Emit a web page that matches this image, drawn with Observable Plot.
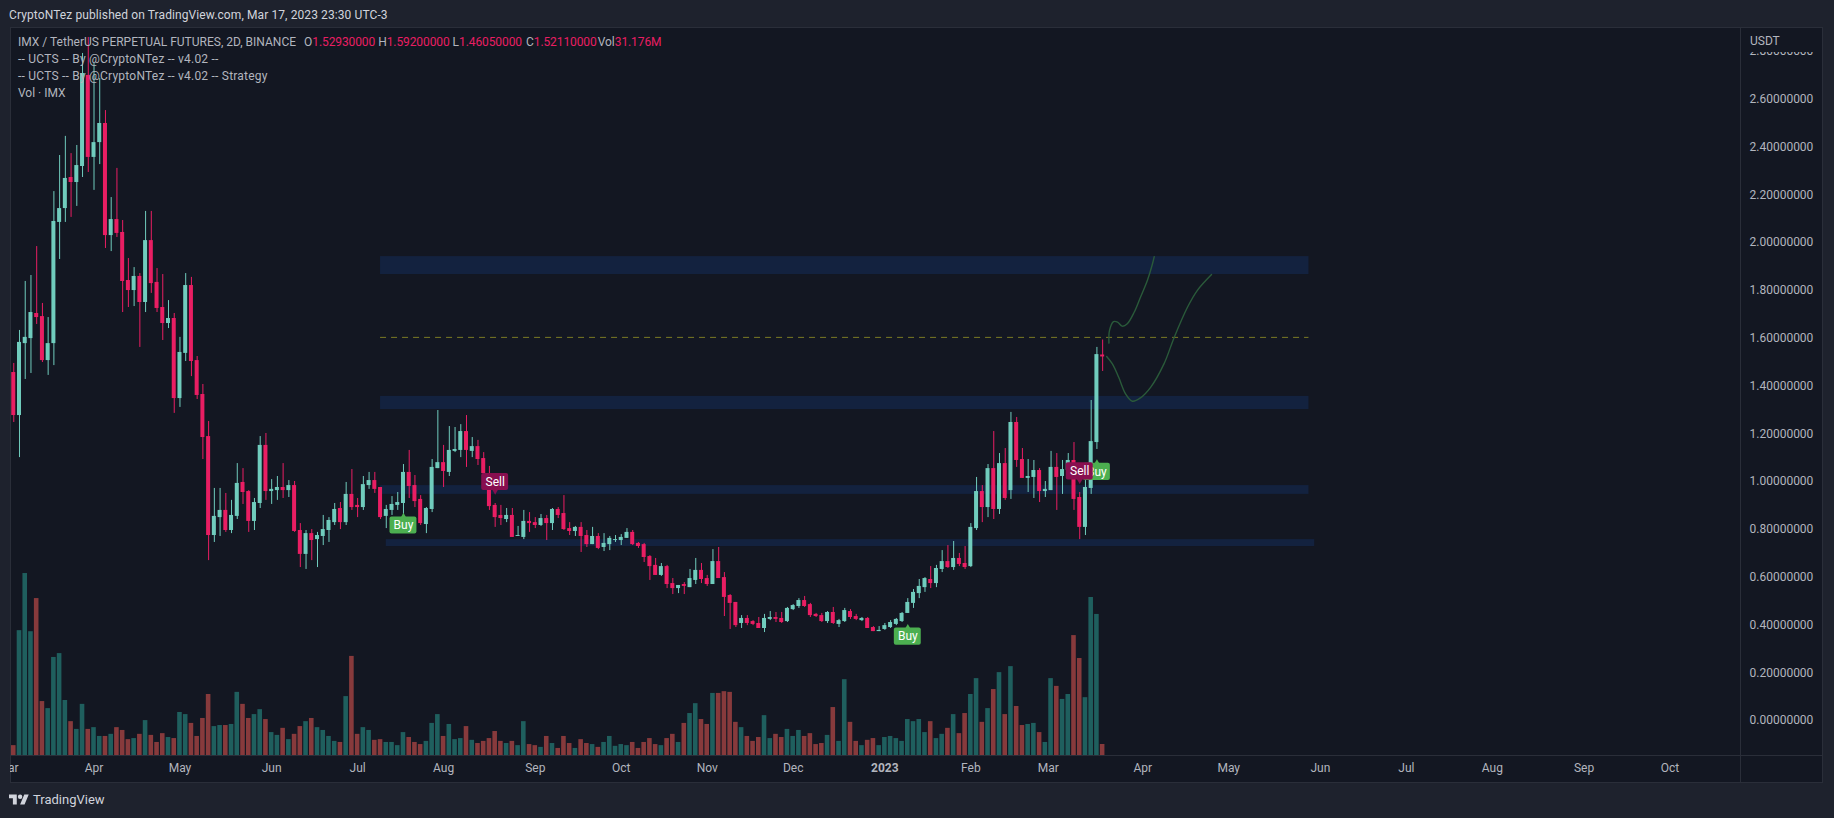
<!DOCTYPE html>
<html>
<head>
<meta charset="utf-8">
<script src="https://cdn.jsdelivr.net/npm/d3@7"></script>
<script src="https://cdn.jsdelivr.net/npm/@observablehq/plot@0.6"></script>
<style>
  html,body{margin:0;padding:0;background:#1e222d;width:1834px;height:818px;overflow:hidden;font-family:Roboto,sans-serif;}
  #title{height:27px;line-height:30px;padding-left:9px;font-size:12px;letter-spacing:.1px;color:#d1d4dc;box-sizing:border-box;white-space:pre;}
  #wrap{position:relative;width:1834px;height:756px;}
  #panel{position:absolute;left:10px;top:0;width:1811px;height:754px;background:#131722;border:1px solid #2a2e39;z-index:0;}
  .line{position:absolute;background:#2a2e39;z-index:2;}
  #wrap svg{position:absolute;left:0;top:0;z-index:1;overflow:visible;}
  #strip{position:absolute;left:0;top:0;width:10px;height:756px;background:#1e222d;z-index:3;}
  #usdt{position:absolute;left:1741px;top:1px;width:81px;height:24px;background:#131722;color:#b2b5be;font-size:12px;line-height:26px;padding-left:9px;box-sizing:border-box;z-index:3;}
  #legend{position:absolute;left:18px;top:7px;font-size:12px;line-height:17px;color:#b2b5be;z-index:3;white-space:pre;}
  #legend .v{color:#e91e63;letter-spacing:-.1px;}
  #legend .gap{display:inline-block;width:3px;}
  #legend .wide{letter-spacing:.22px;}
  #foot{height:33px;display:flex;align-items:center;padding-left:9px;color:#d1d4dc;font-size:13px;box-sizing:border-box;}
  #foot svg{margin-right:4px;}
</style>
</head>
<body>
<div id="title">CryptoNTez published on TradingView.com, Mar 17, 2023 23:30 UTC-3</div>
<div id="wrap">
  <div id="panel"></div>
  <div class="line" style="left:1740px;top:0;width:1px;height:756px"></div>
  <div class="line" style="left:11px;top:728px;width:1811px;height:1px"></div>
  <div id="strip"></div>
  <div id="usdt">USDT</div>
  <div id="legend"><span>IMX / TetherUS PERPETUAL FUTURES, 2D, BINANCE</span><span class="gap" style="width:8px"></span>O<span class="v">1.52930000</span><span class="gap"></span>H<span class="v">1.59200000</span><span class="gap"></span>L<span class="v">1.46050000</span><span class="gap" style="width:4px"></span>C<span class="v">1.52110000</span><span class="gap" style="width:1px"></span>Vol<span class="v">31.176M</span>
<span class="wide">-- UCTS -- By @CryptoNTez -- v4.02 --</span>
<span class="wide">-- UCTS -- By @CryptoNTez -- v4.02 -- Strategy</span>
Vol · IMX</div>
</div>
<div id="foot"><svg width="20" height="16" viewBox="0 0 36 28" fill="#d1d4dc"><path d="M14 22H7V11H0V4h14v18zM28 22h-8l7.5-18h8L28 22z"/><circle cx="20" cy="8" r="4"/></svg><span>TradingView</span></div>
<script>
const firstBar = "2022-03-03";
const open = [1.456,1.276,1.577,1.598,1.703,1.690,1.506,1.577,2.084,2.142,2.272,2.251,2.318,2.699,2.356,2.418,2.498,2.029,2.096,2.042,1.841,1.799,1.858,1.749,2.008,1.833,1.728,1.661,1.682,1.347,1.536,1.820,1.506,1.364,1.188,0.774,0.849,0.879,0.795,0.854,0.996,0.958,0.833,0.908,1.151,0.958,0.962,0.975,0.962,0.983,0.795,0.695,0.782,0.757,0.770,0.795,0.828,0.887,0.828,0.946,0.900,0.891,0.983,1.004,0.975,0.854,0.879,0.900,0.908,1.038,0.983,0.925,0.820,0.883,1.054,1.079,1.038,1.126,1.130,1.209,1.126,1.146,1.096,1.033,0.900,0.858,0.841,0.858,0.770,0.766,0.833,0.828,0.816,0.845,0.824,0.883,0.866,0.803,0.791,0.808,0.774,0.736,0.770,0.724,0.736,0.753,0.753,0.762,0.787,0.741,0.736,0.686,0.649,0.607,0.644,0.573,0.552,0.569,0.556,0.586,0.628,0.594,0.569,0.665,0.598,0.523,0.494,0.406,0.427,0.414,0.406,0.385,0.423,0.431,0.427,0.414,0.464,0.477,0.502,0.485,0.444,0.439,0.414,0.452,0.402,0.414,0.456,0.435,0.418,0.427,0.389,0.372,0.381,0.389,0.402,0.414,0.448,0.490,0.531,0.556,0.590,0.573,0.632,0.665,0.640,0.678,0.657,0.644,0.803,0.958,0.891,1.054,0.883,1.075,0.962,1.247,1.092,1.013,1.017,1.046,0.958,0.962,1.059,1.021,1.046,1.088,0.933,0.808,0.971,1.163,1.5293];
const high = [1.494,1.632,1.837,1.862,1.983,1.745,1.686,2.213,2.364,2.444,2.372,2.406,2.791,2.858,2.749,2.686,2.552,2.188,2.310,2.092,1.933,1.895,1.870,2.130,2.130,1.891,1.866,1.757,1.703,1.603,1.870,1.854,1.523,1.406,1.251,0.971,0.971,0.950,0.921,1.075,1.054,0.962,0.929,1.188,1.201,1.008,1.021,1.075,1.004,1.000,0.824,0.795,0.799,0.787,0.858,0.849,0.908,0.912,0.996,1.050,0.929,1.021,1.038,1.038,0.975,0.900,0.937,0.954,1.071,1.130,1.025,0.941,0.891,1.092,1.297,1.151,1.230,1.226,1.238,1.276,1.184,1.172,1.121,1.063,0.908,0.900,0.887,0.887,0.812,0.879,0.870,0.849,0.862,0.858,0.887,0.891,0.941,0.828,0.812,0.828,0.795,0.808,0.782,0.782,0.770,0.774,0.778,0.803,0.795,0.745,0.741,0.690,0.678,0.657,0.649,0.594,0.565,0.577,0.632,0.678,0.657,0.607,0.715,0.724,0.619,0.527,0.494,0.439,0.439,0.418,0.431,0.444,0.456,0.452,0.452,0.473,0.485,0.510,0.519,0.490,0.448,0.448,0.456,0.473,0.423,0.469,0.464,0.444,0.431,0.431,0.393,0.393,0.406,0.418,0.427,0.452,0.510,0.548,0.590,0.598,0.644,0.649,0.711,0.732,0.749,0.699,0.728,0.824,1.017,0.983,1.071,1.209,1.117,1.138,1.289,1.268,1.138,1.092,1.088,1.054,1.000,1.126,1.117,1.088,1.117,1.163,0.954,1.004,1.339,1.561,1.592];
const low = [1.247,1.100,1.427,1.452,1.657,1.498,1.444,1.485,1.929,2.084,2.105,2.151,2.272,2.293,2.218,2.326,1.975,1.962,2.021,1.707,1.728,1.732,1.561,1.707,1.787,1.707,1.590,1.640,1.285,1.310,1.502,1.439,1.343,1.092,0.669,0.745,0.770,0.787,0.782,0.841,0.904,0.787,0.795,0.887,0.921,0.904,0.921,0.929,0.933,0.787,0.640,0.632,0.669,0.640,0.732,0.745,0.816,0.799,0.816,0.879,0.849,0.879,0.967,0.950,0.841,0.803,0.858,0.879,0.858,0.929,0.891,0.816,0.782,0.870,1.054,0.975,1.021,1.121,1.100,1.059,1.100,1.067,1.017,0.879,0.808,0.816,0.828,0.766,0.770,0.757,0.787,0.803,0.812,0.753,0.795,0.845,0.795,0.774,0.770,0.703,0.724,0.736,0.715,0.707,0.711,0.745,0.732,0.762,0.732,0.720,0.661,0.586,0.607,0.603,0.552,0.527,0.531,0.527,0.556,0.569,0.573,0.561,0.569,0.594,0.435,0.381,0.389,0.385,0.397,0.397,0.385,0.368,0.418,0.410,0.406,0.410,0.460,0.469,0.473,0.431,0.431,0.410,0.406,0.402,0.389,0.410,0.423,0.418,0.414,0.385,0.372,0.372,0.377,0.385,0.397,0.410,0.448,0.469,0.510,0.536,0.552,0.556,0.619,0.636,0.628,0.644,0.632,0.640,0.795,0.828,0.849,0.841,0.862,0.921,0.925,1.059,1.013,0.954,0.929,0.912,0.933,0.962,0.879,0.946,1.013,0.879,0.757,0.774,0.946,1.134,1.4605];
const close = [1.276,1.582,1.603,1.707,1.686,1.506,1.577,2.088,2.142,2.268,2.251,2.322,2.707,2.356,2.418,2.498,2.029,2.096,2.038,1.837,1.799,1.858,1.749,2.008,1.828,1.724,1.661,1.682,1.347,1.540,1.820,1.502,1.360,1.184,0.774,0.854,0.879,0.795,0.858,0.992,0.954,0.833,0.912,1.151,0.958,0.967,0.975,0.962,0.983,0.791,0.695,0.782,0.753,0.774,0.799,0.837,0.883,0.828,0.946,0.891,0.891,0.987,1.004,0.967,0.849,0.883,0.904,0.912,1.038,0.979,0.916,0.824,0.887,1.059,1.079,1.042,1.130,1.134,1.209,1.130,1.146,1.092,1.033,0.895,0.849,0.845,0.858,0.766,0.774,0.833,0.824,0.816,0.845,0.824,0.883,0.858,0.799,0.791,0.808,0.770,0.736,0.770,0.720,0.741,0.762,0.757,0.766,0.787,0.736,0.728,0.682,0.644,0.607,0.644,0.569,0.552,0.565,0.561,0.594,0.628,0.590,0.569,0.665,0.594,0.515,0.490,0.397,0.427,0.406,0.402,0.385,0.427,0.431,0.423,0.410,0.469,0.481,0.502,0.477,0.439,0.435,0.414,0.452,0.406,0.418,0.460,0.431,0.423,0.427,0.385,0.372,0.377,0.397,0.410,0.423,0.448,0.494,0.536,0.561,0.594,0.573,0.636,0.665,0.640,0.678,0.653,0.640,0.808,0.958,0.891,1.054,0.883,1.075,0.929,1.247,1.088,1.013,1.021,1.046,0.958,0.967,1.059,1.017,1.050,1.088,0.925,0.808,0.975,1.167,1.531,1.5211];
const volumeM = [28,354,516,351,445,153,133,278,289,156,96,74,145,74,79,54,54,60,79,71,45,48,60,99,57,37,62,51,48,122,116,91,54,105,173,82,85,85,88,179,145,105,116,130,102,65,57,77,45,60,82,96,105,79,71,54,40,37,167,281,60,79,71,43,45,37,37,28,65,51,37,31,40,91,116,54,88,45,48,82,43,34,40,48,68,40,34,40,28,96,31,28,23,54,34,20,54,34,20,45,34,31,23,37,54,26,31,28,37,20,37,48,31,28,48,60,37,91,119,147,102,88,176,176,181,179,94,79,54,40,51,113,48,60,51,74,54,71,54,62,31,34,57,136,40,215,94,40,28,43,48,28,51,54,48,40,102,96,102,65,96,48,60,77,116,62,119,173,218,94,133,187,235,116,252,139,85,88,91,65,37,218,196,159,173,340,275,164,448,400,31.176];

// Support/resistance zones
const zoneStartBar = [64,64,64,65];
const zoneEndBar = [226,226,226,227];
const zoneHigh = [1.941,1.356,0.983,0.757];
const zoneLow = [1.866,1.301,0.946,0.728];
const levelPrice = [1.603];
const levelBars = [64,226];

// Hand-drawn projections
const pathABar = [191.1,191.2,191.9,192.6,193.4,194.3,195.5,196.6,197.8,198.7,199.0];
const pathAPrice = [1.579,1.632,1.669,1.667,1.650,1.660,1.708,1.771,1.841,1.911,1.941];
const pathBBar = [190.7,191.7,192.8,194.0,195.2,196.6,198.4,200.7,202.5,204.8,206.5,209];
const pathBPrice = [1.523,1.492,1.436,1.367,1.336,1.350,1.395,1.492,1.604,1.729,1.799,1.866];

// Signals (drawn in this order; the second Sell covers part of the last Buy)
const signalText = ["Buy","Sell","Buy","Buy","Sell"];
const signalBar = [68,84,156,189,186];
const signalPrice = [0.816,0.998,0.351,1.04,1.042];

// Axes
const priceTicks = [0,0.2,0.4,0.6,0.8,1,1.2,1.4,1.6,1.8,2,2.2,2.4,2.6,2.8];
const monthTickDates = ["2022-03-01","2022-03-31","2022-04-30","2022-06-01","2022-07-01","2022-07-31","2022-09-01","2022-10-01","2022-10-31","2022-11-30","2023-01-31","2023-02-27","2023-04-01","2023-05-01","2023-06-02","2023-07-02","2023-08-01","2023-09-02","2023-10-02"];
const monthTickLabels = ["Mar","Apr","May","Jun","Jul","Aug","Sep","Oct","Nov","Dec","Feb","Mar","Apr","May","Jun","Jul","Aug","Sep","Oct"];
const yearTickDates = ["2023-01-01"];
const yearTickLabels = ["2023"];
const xDomain = [new Date("2022-03-02T05:00Z"), new Date("2023-10-26T14:24Z")];
const yDomain = [-0.1464, 2.8996];
const volMax = 516, volTopPrice = 0.615;

const colors = {up:"#70ccbd", down:"#e91e63", volUp:"#1f5f5e", volDown:"#873a3c", zone:"#13223f", level:"#7a7a24", path:"#2a5a3a", buy:"#4caf50", sell:"#880e4f"};

const DAY = 864e5, t0 = +new Date(firstBar + "T00:00Z");
const barDate = (i, dd = 0) => new Date(t0 + (i * 2 + dd) * DAY);
const volY = d3.scaleLinear([0, volMax], [yDomain[0], volTopPrice]);

const bars = open.map((o, i) => ({i, o, h: high[i], l: low[i], c: close[i], v: volumeM[i], up: close[i] >= o}));
const zones = zoneStartBar.map((s, i) => ({s, e: zoneEndBar[i], hi: zoneHigh[i], lo: zoneLow[i]}));
const pathA = pathABar.map((b, i) => ({b, p: pathAPrice[i]}));
const pathB = pathBBar.map((b, i) => ({b, p: pathBPrice[i]}));
const signals = signalText.map((t, i) => ({t, b: signalBar[i], p: signalPrice[i]}));
const parse = s => new Date(s + "T00:00Z");
const labelFor = (dates, labels) => d => labels[dates.indexOf(d.toISOString().slice(0, 10))];

const signalMarks = signals.flatMap(s => {
  const col = s.t === "Buy" ? colors.buy : colors.sell;
  return [
    Plot.dot([s], {x: d => barDate(d.b), y: d => d.p + (d.t === "Buy" ? 0.036 : -0.036), symbol: "triangle", r: 2.6, fill: col, rotate: s.t === "Buy" ? 0 : 180}),
    Plot.rect([s], {x1: d => barDate(d.b, -4.7), x2: d => barDate(d.b, 4.7), y1: d => d.p - 0.036, y2: d => d.p + 0.036, fill: col, rx: 2}),
    Plot.text([s], {x: d => barDate(d.b), y: d => d.p, text: "t", fill: "#ffffff", fontSize: 12})
  ];
});

const chart = Plot.plot({
  width: 1834, height: 756, marginTop: 0, marginBottom: 28, marginLeft: 11, marginRight: 94,
  style: {background: "transparent", color: "#b2b5be", fontFamily: "Roboto, sans-serif", fontSize: "12px"},
  x: {type: "utc", domain: xDomain},
  y: {domain: yDomain},
  marks: [
    Plot.axisY({anchor: "right", ticks: priceTicks, tickSize: 0, tickPadding: 9, tickFormat: d => d.toFixed(8), label: null, fill: "#b2b5be"}),
    Plot.axisX({ticks: monthTickDates.map(parse), tickSize: 0, tickPadding: 8, tickFormat: labelFor(monthTickDates, monthTickLabels), label: null, fill: "#b2b5be"}),
    Plot.axisX({ticks: yearTickDates.map(parse), tickSize: 0, tickPadding: 8, tickFormat: labelFor(yearTickDates, yearTickLabels), label: null, fill: "#b2b5be", fontWeight: "bold"}),
    Plot.rect(bars, {x1: d => barDate(d.i, -0.8), x2: d => barDate(d.i, 0.8), y1: yDomain[0], y2: d => volY(d.v), fill: d => d.up ? colors.volUp : colors.volDown}),
    Plot.rect(zones, {x1: d => barDate(d.s), x2: d => barDate(d.e), y1: "lo", y2: "hi", fill: colors.zone}),
    Plot.ruleY(levelPrice, {x1: barDate(levelBars[0]), x2: barDate(levelBars[1]), stroke: colors.level, strokeWidth: 1, strokeDasharray: "6 5"}),
    Plot.ruleX(bars, {x: d => barDate(d.i), y1: "l", y2: "h", stroke: d => d.up ? colors.up : colors.down, strokeWidth: 1}),
    Plot.rect(bars, {x1: d => barDate(d.i, -0.7), x2: d => barDate(d.i, 0.7), y1: d => Math.min(d.o, d.c), y2: d => Math.max(d.o, d.c), fill: d => d.up ? colors.up : colors.down}),
    Plot.line(pathA, {x: d => barDate(d.b), y: "p", stroke: colors.path, strokeWidth: 1.4, curve: "catmull-rom"}),
    Plot.line(pathB, {x: d => barDate(d.b), y: "p", stroke: colors.path, strokeWidth: 1.4, curve: "catmull-rom"}),
    ...signalMarks
  ]
});
document.getElementById("wrap").appendChild(chart);
</script>
</body>
</html>
